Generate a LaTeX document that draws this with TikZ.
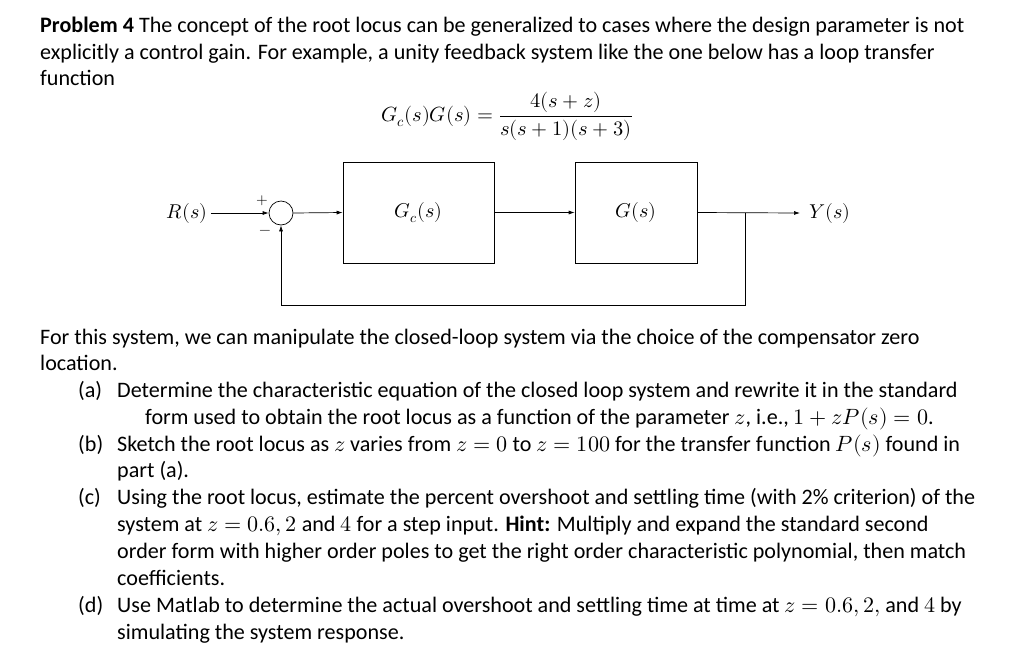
\documentclass[tikz,border=0pt]{standalone}
\usepackage{fontspec}
\setmainfont{Carlito}
\usepackage{unicode-math}
\setmathfont{Latin Modern Math}
\usetikzlibrary{arrows.meta}
\begin{document}
\begin{tikzpicture}[x=1pt,y=-1pt,
  txt/.style={anchor=base west,inner sep=0pt,font=\fontsize{22.1}{24}\selectfont},
  blk/.style={draw,line width=0.7pt,minimum width=#1,minimum height=101pt,inner sep=0pt},
  sig/.style={-{Latex[length=6pt,width=4pt]},line width=0.7pt},
  mth/.style={font=\fontsize{20}{22}\selectfont}]
\useasboundingbox (0,0) rectangle (1024,654);
\node[txt] (l1) at (40,32) {\textbf{Problem 4} The concept of the root locus can be generalized to cases where the design parameter is not};
\node[txt] (l2) at (40,59) {explicitly a control gain. For example, a unity feedback system like the one below has a loop transfer};
\node[txt] (l3) at (40,85) {function};
\node[mth,font=\fontsize{20.5}{22}\selectfont] (eq) at (507,116) {$G_c(s)G(s)=\dfrac{4(s+z)}{s(s+1)(s+3)}$};
% block diagram
\node[mth] (R) at (187,213) {$R(s)$};
\node[draw,circle,line width=0.7pt,minimum size=24pt,inner sep=0pt] (sum) at (281,213) {};
\node[mth,font=\fontsize{15}{16}\selectfont] (plus) at (262,201) {$+$};
\node[mth,font=\fontsize{15}{16}\selectfont] (minus) at (265,232) {$-$};
\node[blk=151pt,mth] (gc) at (418.5,212.5) {$G_c(s)$};
\node[blk=122pt,mth] (g) at (636,212.5) {$G(s)$};
\node[mth] (Y) at (830,213) {$Y(s)$};
\coordinate (yend) at (800,213);
\coordinate (tap) at (745,213);
\draw[sig] (R.east) -- (sum.west);
\draw[sig] (sum.east) -- (gc.west);
\draw[sig] (gc.east) -- (g.west);
\draw[sig] (g.east) -- (yend);
\draw[sig] (tap) -- (745,305) -- (281,305) -- (sum.south);
\node[txt] (l4) at (40,344) {For this system, we can manipulate the closed-loop system via the choice of the compensator zero};
\node[txt] (l5) at (40,370) {location.};
\node[txt] (al) at (78,397) {(a)};
\node[txt] (a1) at (117,397) {Determine the characteristic equation of the closed loop system and rewrite it in the standard};
\node[txt] (a2) at (145,424) {form used to obtain the root locus as a function of the parameter $z$, i.e., $1+zP(s)=0$.};
\node[txt] (bl) at (78,451) {(b)};
\node[txt] (b1) at (117,451) {Sketch the root locus as $z$ varies from $z=0$ to $z=100$ for the transfer function $P(s)$ found in};
\node[txt] (b2) at (117,477) {part (a).};
\node[txt] (cl) at (78,504) {(c)};
\node[txt] (c1) at (117,504) {Using the root locus, estimate the percent overshoot and settling time (with 2\% criterion) of the};
\node[txt] (c2) at (117,531) {system at $z=0.6,2$ and $4$ for a step input. \textbf{Hint:} Multiply and expand the standard second};
\node[txt] (c3) at (117,558) {order form with higher order poles to get the right order characteristic polynomial, then match};
\node[txt] (c4) at (117,585) {coefficients.};
\node[txt] (dl) at (78,612) {(d)};
\node[txt] (d1) at (117,612) {Use Matlab to determine the actual overshoot and settling time at time at $z=0.6,2,$ and $4$ by};
\node[txt] (d2) at (117,639) {simulating the system response.};
\end{tikzpicture}
\end{document}
